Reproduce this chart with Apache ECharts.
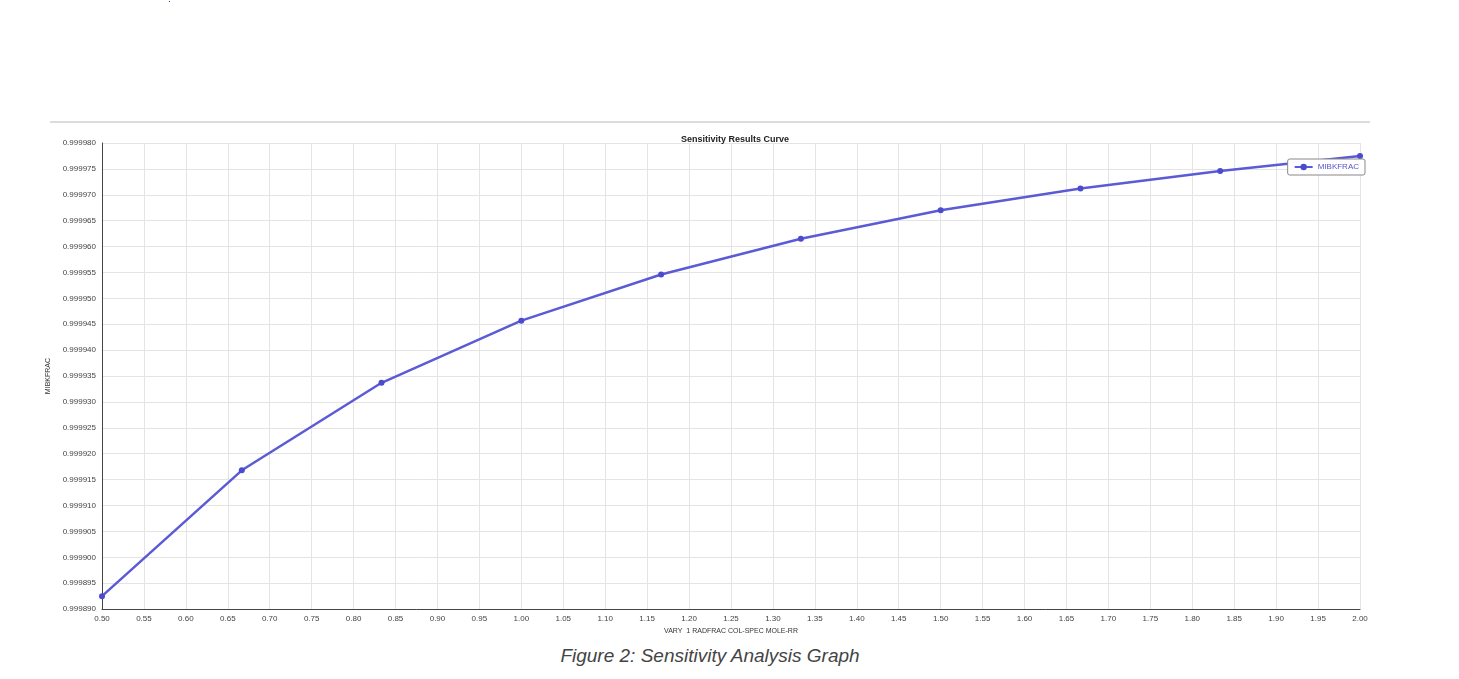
<!DOCTYPE html>
<html>
<head>
<meta charset="utf-8">
<script src="https://cdn.jsdelivr.net/npm/echarts@6/dist/echarts.min.js"></script>
<style>
body{margin:0;background:#fff;font-family:"Liberation Sans",Arial,sans-serif}
#rule{position:absolute;left:50px;top:121px;width:1320px;height:2px;background:#dcdcdc}
#main{position:absolute;left:0;top:0;width:1459px;height:640px}
#cap{position:absolute;left:0;width:1420px;top:645px;text-align:center;font-style:italic;font-size:19px;color:#444}
#dot{position:absolute;left:169px;top:1px;width:1px;height:1px;background:#33c}
</style>
</head>
<body>
<div id="dot"></div>
<div id="rule"></div>
<div id="main"></div>
<div id="cap">Figure 2: Sensitivity Analysis Graph</div>
<script>
var xVals = [0.5, 0.6667, 0.8333, 1.0, 1.1667, 1.3333, 1.5, 1.6667, 1.8333, 2.0];
var yVals = [0.9998925, 0.9999168, 0.9999337, 0.9999457, 0.9999546, 0.9999615, 0.9999670, 0.9999712, 0.9999746, 0.9999775];
var seriesName = 'MIBKFRAC';

var chart = echarts.init(document.getElementById('main'));
var pts = xVals.map(function (x, i) { return [x, yVals[i]]; });
var lbl = {fontSize: 8, color: '#444', fontFamily: 'Liberation Sans'};
chart.setOption({
    animation: false,
    title: {text: 'Sensitivity Results Curve', left: 730, top: 130, textAlign: 'center',
        textStyle: {fontSize: 9, fontWeight: 'bold', color: '#222'}},
    legend: {data: [seriesName], right: 94, top: 159, orient: 'vertical',
        backgroundColor: '#fff', borderColor: '#888', borderWidth: 1, borderRadius: 2,
        padding: [4, 6], itemWidth: 18, itemHeight: 8,
        textStyle: {fontSize: 8, color: '#55c'}},
    grid: {left: 102, right: 99, top: 143, bottom: 17},
    xAxis: {type: 'value', min: 0.5, max: 2.0, interval: 0.05,
        name: 'VARY  1 RADFRAC COL-SPEC MOLE-RR', nameLocation: 'middle', nameGap: 16,
        nameTextStyle: {fontSize: 7, color: '#333'},
        axisLine: {lineStyle: {color: '#444'}}, axisTick: {show: false},
        axisLabel: Object.assign({margin: 6, formatter: function (v) { return v.toFixed(2); }}, lbl),
        splitLine: {lineStyle: {color: '#e4e4e4'}}},
    yAxis: {type: 'value', min: 0.99989, max: 0.99998, interval: 0.000005,
        name: 'MIBKFRAC', nameLocation: 'middle', nameGap: 46,
        nameTextStyle: {fontSize: 7, color: '#333'},
        axisLine: {show: true, lineStyle: {color: '#444'}}, axisTick: {show: false},
        axisLabel: Object.assign({margin: 6, formatter: function (v) { return v.toFixed(6); }}, lbl),
        splitLine: {lineStyle: {color: '#e4e4e4'}}},
    series: [{name: seriesName, type: 'line', data: pts, symbol: 'circle', symbolSize: 6,
        itemStyle: {color: '#4b4bd0'}, lineStyle: {width: 2.5, color: '#5b5bd6'}}]
});
</script>
</body>
</html>
